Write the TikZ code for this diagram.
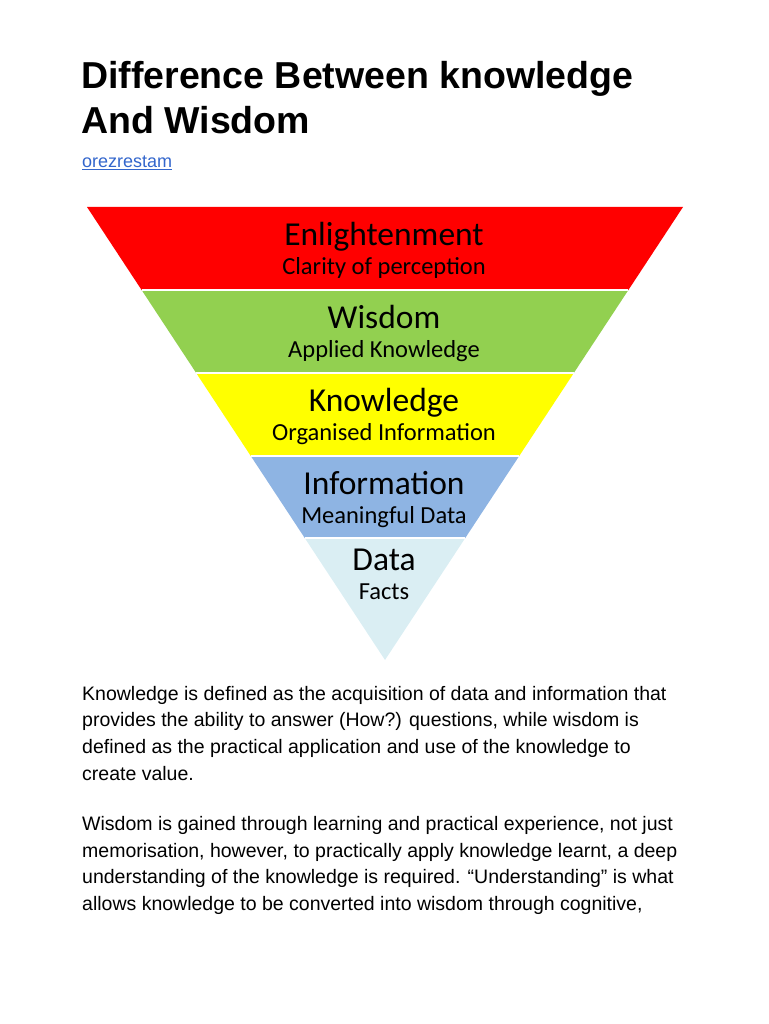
\documentclass[tikz,border=0pt]{standalone}
\usepackage{fontspec}
\setmainfont{Liberation Sans}
\newfontfamily\calfont{Carlito}
\definecolor{bred}{HTML}{FF0000}
\definecolor{bgreen}{HTML}{92D050}
\definecolor{byellow}{HTML}{FFFF00}
\definecolor{bblue}{HTML}{8EB4E3}
\definecolor{blight}{HTML}{DAEEF3}
\definecolor{linkc}{HTML}{3366CC}
\begin{document}
\begin{tikzpicture}[x=1pt,y=-1pt,
  big/.style={font=\calfont\fontsize{33.5}{36}\selectfont,anchor=base},
  small/.style={font=\calfont\fontsize{24.5}{27}\selectfont,anchor=base},
  ttl/.style={anchor=base west,inner sep=0,font=\bfseries\fontsize{37.5}{42}\selectfont},
  body/.style={anchor=base west,font=\fontsize{19.5}{22}\selectfont,inner sep=0}]
\useasboundingbox (0,0) rectangle (768,1024);
\node[ttl] (title1) at (81,89) {Difference Between knowledge};
\node[ttl] (title2) at (81,134) {And Wisdom};
\node[anchor=base west,inner sep=0,font=\fontsize{18}{20}\selectfont,text=linkc] (link) at (82,168) {\underline{orezrestam}};
\fill[bred]    (87,207) -- (683,207) -- ({683-0.6578*83},290) -- ({87+0.6578*83},290) -- cycle;
\fill[bgreen]  ({87+0.6578*83},290) -- ({683-0.6578*83},290) -- ({683-0.6578*166},373) -- ({87+0.6578*166},373) -- cycle;
\fill[byellow] ({87+0.6578*166},373) -- ({683-0.6578*166},373) -- ({683-0.6578*249},456) -- ({87+0.6578*249},456) -- cycle;
\fill[bblue]   ({87+0.6578*249},456) -- ({683-0.6578*249},456) -- ({683-0.6578*331},538) -- ({87+0.6578*331},538) -- cycle;
\fill[blight]  ({87+0.6578*331},538) -- ({683-0.6578*331},538) -- (385,660) -- cycle;
\foreach \y in {290,373,456,538} \draw[white,line width=2pt] ({87+0.6578*(\y-207)},\y) -- ({683-0.6578*(\y-207)},\y);
\node[big] (e1) at (384,245) {Enlightenment};
\node[small] (e2) at (384,274) {Clarity of perception};
\node[big] (w1) at (384,328) {Wisdom};
\node[small] (w2) at (384,357) {Applied Knowledge};
\node[big] (k1) at (384,411) {Knowledge};
\node[small] (k2) at (384,440) {Organised Information};
\node[big] (i1) at (384,494) {Information};
\node[small] (i2) at (384,523) {Meaningful Data};
\node[big] (d1) at (384,570) {Data};
\node[small] (d2) at (384,599) {Facts};
\node[body] (p1) at (82,700) {Knowledge is defined as the acquisition of data and information that};
\node[body] (p2) at (82,726) {provides the ability to answer (How?) questions, while wisdom is};
\node[body] (p3) at (82,753) {defined as the practical application and use of the knowledge to};
\node[body] (p4) at (82,780) {create value.};
\node[body] (q1) at (82,830) {Wisdom is gained through learning and practical experience, not just};
\node[body] (q2) at (82,857) {memorisation, however, to practically apply knowledge learnt, a deep};
\node[body] (q3) at (82,883) {understanding of the knowledge is required. “Understanding” is what};
\node[body] (q4) at (82,910) {allows knowledge to be converted into wisdom through cognitive,};
\end{tikzpicture}
\end{document}
